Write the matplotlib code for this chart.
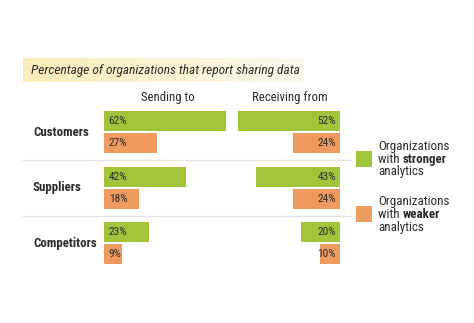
import matplotlib
matplotlib.use("Agg")
import matplotlib.pyplot as plt
from matplotlib import font_manager
import numpy as np

categories = ["Customers", "Suppliers", "Competitors"]
sending_strong = [62, 42, 23]
sending_weak = [27, 18, 9]
receiving_strong = [52, 43, 20]
receiving_weak = [24, 24, 10]
title = "Percentage of organizations that report sharing data"
col_headers = ["Sending to", "Receiving from"]

GREEN = "#a2c43a"
ORANGE = "#ef9a5e"
TXT = "#2b2b2b"

names = {f.name for f in font_manager.fontManager.ttflist}
FONT = "DejaVu Sans"
for cand in ["Roboto Condensed", "Archivo Narrow", "Fira Sans Condensed", "Barlow Semi Condensed",
             "PT Sans Narrow", "Liberation Sans Narrow", "Asap Condensed"]:
    if cand in names:
        FONT = cand
        break
plt.rcParams["font.family"] = [FONT, "DejaVu Sans"]

W, H = 474, 323
fig = plt.figure(figsize=(W / 100, H / 100), dpi=100)

def fax(x0, y0, x1, y1):
    return fig.add_axes([x0 / W, 1 - y1 / H, (x1 - x0) / W, (y1 - y0) / H])

ov = fig.add_axes([0, 0, 1, 1])
ov.set_xlim(0, W)
ov.set_ylim(H, 0)
ov.axis("off")

grad = np.linspace(0, 1, 256)
c0 = np.array([250, 237, 185]) / 255
c1 = np.array([253, 250, 238]) / 255
img = (c0[None, :] * (1 - grad[:, None]) + c1[None, :] * grad[:, None])[None, :, :]
ov.imshow(img, extent=[23, 304, 82, 58], aspect="auto", zorder=0)
ov.text(31, 70.5, title, fontsize=9.6, style="italic", color=TXT, va="center", ha="left")

ov.text(168, 97, col_headers[0], fontsize=9.2, color=TXT, ha="center", va="center")
ov.text(289.5, 97, col_headers[1], fontsize=9.2, color=TXT, ha="center", va="center")

for ys in [160, 215.5]:
    ov.plot([23, 350], [ys, ys], color="#e2e2e2", lw=1.0)

SCALE = 1.96
ROW = 55.5
top = 132.2 - ROW / 2
bot = top + 3 * ROW
y = np.arange(len(categories))
bh = 20 / ROW
off = 11.2 / ROW

axS = fax(104, top, 104 + 130, bot)
axS.set_xlim(0, 130 / SCALE)
axS.set_ylim(2.5, -0.5)
axS.barh(y - off, sending_strong, height=bh, color=GREEN)
axS.barh(y + off, sending_weak, height=bh, color=ORANGE)
for i in range(len(categories)):
    axS.text(2.4, y[i] - off, f"{sending_strong[i]}%", fontsize=8.2, color=TXT, va="center", ha="left")
    axS.text(2.4, y[i] + off, f"{sending_weak[i]}%", fontsize=8.2, color=TXT, va="center", ha="left")
axS.axis("off")

axR = fax(340 - 130, top, 340, bot)
axR.set_xlim(130 / SCALE, 0)
axR.set_ylim(2.5, -0.5)
axR.barh(y - off, receiving_strong, height=bh, color=GREEN)
axR.barh(y + off, receiving_weak, height=bh, color=ORANGE)
for i in range(len(categories)):
    axR.text(2.2, y[i] - off, f"{receiving_strong[i]}%", fontsize=8.2, color=TXT, va="center", ha="right")
    axR.text(2.2, y[i] + off, f"{receiving_weak[i]}%", fontsize=8.2, color=TXT, va="center", ha="right")
axR.axis("off")

for i, c in enumerate(categories):
    ov.text(33, top + ROW * (i + 0.5), c, fontsize=9.3, fontweight="bold", color=TXT, va="center", ha="left")

fig.canvas.draw()
r = fig.canvas.get_renderer()
leg = [(GREEN, 151, "stronger"), (ORANGE, 206, "weaker")]
for col, y0, word in leg:
    ov.add_patch(plt.Rectangle((356, y0), 16, 15.5, color=col, lw=0))
    ty = y0 - 4.5
    ov.text(378, ty, "Organizations", fontsize=9.4, color=TXT, va="center", ha="left")
    t = ov.text(378, ty + 13, "with ", fontsize=9.4, color=TXT, va="center", ha="left")
    bb = t.get_window_extent(renderer=r)
    wpx = bb.width * W / fig.bbox.width
    ov.text(378 + wpx, ty + 13, word, fontsize=9.4, fontweight="bold", color=TXT, va="center", ha="left")
    ov.text(378, ty + 25.5, "analytics", fontsize=9.4, color=TXT, va="center", ha="left")

fig.savefig("out.png", dpi=100)
